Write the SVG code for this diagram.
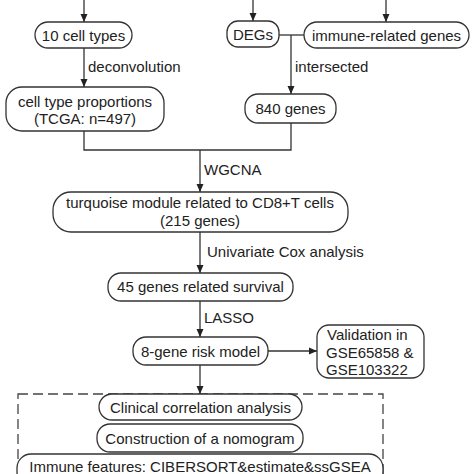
<svg xmlns="http://www.w3.org/2000/svg" width="474" height="474" viewBox="0 0 474 474">
<defs>
<marker id="arr" markerWidth="8" markerHeight="8" refX="8" refY="4" orient="auto" markerUnits="userSpaceOnUse">
<path d="M0,0.5 L8,4 L0,7.5 z" fill="#222"/>
</marker>
<style>
.box{fill:#fff;stroke:#333;stroke-width:1.3}
.t{font-family:"Liberation Sans",Arial,sans-serif;font-size:15px;fill:#222}
.c{text-anchor:middle}
.ln{fill:none;stroke:#333;stroke-width:1.3}
.ar{marker-end:url(#arr)}
.dash{fill:none;stroke:#444;stroke-width:1.3;stroke-dasharray:10 5}
</style>
</defs>
<rect width="474" height="474" fill="#fff"/>
<g id="connectors">
<line class="ln ar" x1="84" y1="0" x2="84" y2="22"/>
<line class="ln ar" x1="253" y1="0" x2="253" y2="21"/>
<line class="ln ar" x1="386" y1="0" x2="386" y2="22"/>
<line class="ln ar" x1="84" y1="48" x2="84" y2="87"/>
<text class="t" x="88" y="72">deconvolution</text>
<line class="ln" x1="279" y1="35" x2="304" y2="35"/>
<line class="ln ar" x1="291" y1="35" x2="291" y2="94"/>
<text class="t" x="295" y="72">intersected</text>
<polyline class="ln" points="84,131 84,150 291,150 291,123"/>
<line class="ln ar" x1="200" y1="150" x2="200" y2="192"/>
<text class="t" x="204" y="175">WGCNA</text>
<line class="ln ar" x1="200" y1="232" x2="200" y2="273"/>
<text class="t" x="207" y="257">Univariate Cox analysis</text>
<line class="ln ar" x1="200" y1="301" x2="200" y2="337"/>
<text class="t" x="204" y="323">LASSO</text>
<line class="ln ar" x1="268" y1="351" x2="317" y2="351"/>
<line class="ln ar" x1="200" y1="365" x2="200" y2="394"/>
</g>
<rect class="dash" x="18" y="394" width="365" height="110"/>
<g id="n1"><rect class="box" x="35" y="22" width="97" height="26" rx="13"/><text class="t c" x="83.5" y="40.5">10 cell types</text></g>
<g id="n2"><rect class="box" x="227" y="21" width="52" height="26" rx="11"/><text class="t c" x="253" y="39.5">DEGs</text></g>
<g id="n3"><rect class="box" x="304" y="22" width="165" height="26" rx="13"/><text class="t c" x="386.5" y="40.5">immune-related genes</text></g>
<g id="n4"><rect class="box" x="6" y="87" width="158" height="44" rx="16"/><text class="t c" x="85" y="107">cell type proportions</text><text class="t c" x="85" y="124">(TCGA: n=497)</text></g>
<g id="n5"><rect class="box" x="245" y="94" width="91" height="29" rx="13"/><text class="t c" x="290.5" y="114">840 genes</text></g>
<g id="n6"><rect class="box" x="53" y="192" width="295" height="40" rx="18"/><text class="t c" x="200" y="208">turquoise module related to CD8+T cells</text><text class="t c" x="200" y="226">(215 genes)</text></g>
<g id="n7"><rect class="box" x="108" y="273" width="185" height="28" rx="13"/><text class="t c" x="200.5" y="292">45 genes related survival</text></g>
<g id="n8"><rect class="box" x="133" y="337" width="135" height="28" rx="13"/><text class="t c" x="200.5" y="356.5">8-gene risk model</text></g>
<g id="n9"><rect class="box" x="317" y="325" width="107" height="53" rx="12"/><text class="t" x="327" y="340">Validation in</text><text class="t" x="326" y="358">GSE65858 &amp;</text><text class="t" x="326" y="375">GSE103322</text></g>
<g id="n10"><rect class="box" x="99" y="394" width="203" height="26" rx="13"/><text class="t c" x="200.5" y="412.5">Clinical correlation analysis</text></g>
<g id="n11"><rect class="box" x="97" y="424" width="206" height="28" rx="13"/><text class="t c" x="200" y="443.5">Construction of a nomogram</text></g>
<g id="n12"><rect class="box" x="17" y="454" width="366" height="32" rx="14"/><text class="t c" x="200" y="472">Immune features: CIBERSORT&amp;estimate&amp;ssGSEA</text></g>
</svg>
